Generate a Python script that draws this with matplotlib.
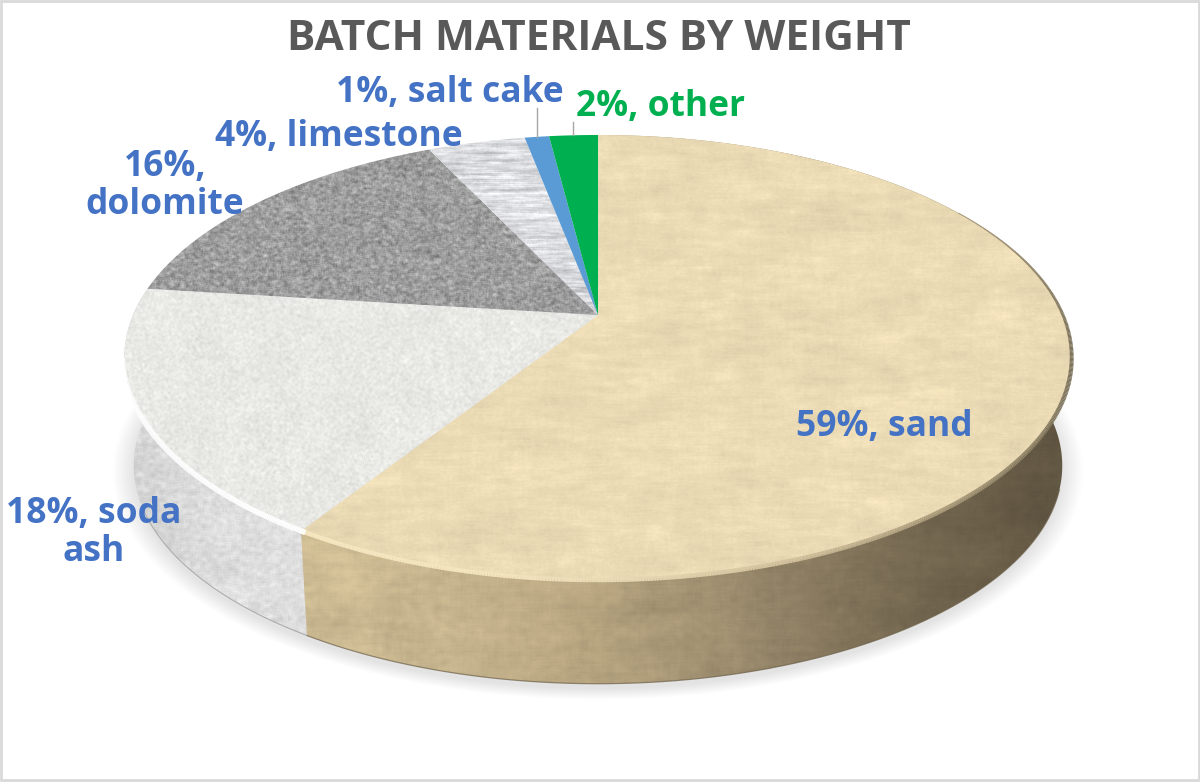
import numpy as np
import matplotlib
matplotlib.use('Agg')
import matplotlib.pyplot as plt
from matplotlib.collections import LineCollection
from matplotlib.colors import to_rgb
from matplotlib.patches import Polygon, Rectangle

# slices, clockwise from 12 o'clock
materials = ['sand', 'soda\nash', 'dolomite', 'limestone', 'salt cake', 'other']
percent = [59, 18, 16, 4, 1, 2]
separators = [', ', ', ', ',\n', ', ', ', ', ', ']
title = 'BATCH MATERIALS BY WEIGHT'

W, H = 1200, 782
FONT = 'Open Sans'

# pie geometry in picture pixels
CX, CY = 598, 315
A, B, K = 465, 214.4, 0.191
DEPTH, BOTTOM_SCALE = 109, 0.98


def project(t, bottom=False):
    x, y = np.cos(t), np.sin(t)
    w = 1 + K * y
    s = BOTTOM_SCALE if bottom else 1.0
    dz = DEPTH if bottom else 0
    return np.c_[CX + s * A * x / w, CY + dz - s * B * y / w]


def hash_noise(seed):
    xx, yy = np.meshgrid(np.arange(W), np.arange(H))
    v = np.sin(xx * 12.9898 + yy * 78.233 + seed) * 43758.5453
    return v - np.floor(v)


def smooth(a, kx, ky):
    kernel = np.zeros_like(a)
    kernel[:ky, :kx] = 1 / (kx * ky)
    out = np.fft.irfft2(np.fft.rfft2(a) * np.fft.rfft2(kernel), s=a.shape)
    return (out - out.mean()) / out.std()


def textured(base, layers, shade=None):
    tex = np.zeros((H, W))
    for seed, kx, ky, amp in layers:
        tex += amp * smooth(hash_noise(seed), kx, ky)
    rgb = np.array(to_rgb(base))[None, None, :] * (1 + tex)[..., None]
    if shade is not None:
        rgb = shade * (1 + tex)[..., None]
    return np.clip(rgb, 0, 1)


def gradient(xs, colors):
    cols = np.array([to_rgb(c) for c in colors])
    grid = np.arange(W)
    ramp = np.stack([np.interp(grid, xs, cols[:, i]) for i in range(3)], axis=1)
    return np.repeat(ramp[None, :, :], H, axis=0)


def draw_clipped(ax, image, points, zorder):
    patch = Polygon(points, closed=True, facecolor='none', edgecolor='none',
                    transform=ax.transData, zorder=zorder)
    ax.add_patch(patch)
    im = ax.imshow(image, extent=(0, W, H, 0), aspect='auto',
                   interpolation='nearest', zorder=zorder)
    im.set_clip_path(patch)


fig = plt.figure(figsize=(W / 100, H / 100), dpi=100)
ax = fig.add_axes([0, 0, 1, 1])

# start/end angle of each slice
edges = np.cumsum([0] + percent) / sum(percent)
angles = np.pi / 2 - 2 * np.pi * edges

top_tex = [
    textured('#ebdbb5', [(1.0, 45, 22, 0.012), (2.0, 20, 6, 0.010), (3.0, 3, 2, 0.006)]),
    textured('#e8e8e5', [(4.0, 3, 3, 0.018), (5.0, 30, 30, 0.006)]),
    textured('#9d9d9e', [(6.0, 4, 3, 0.07), (7.0, 2, 2, 0.03)]),
    textured('#dcdde0', [(8.0, 40, 3, 0.05), (9.0, 12, 2, 0.03)]),
    textured('#5b9bd5', []),
    textured('#00b050', []),
]
sand_wall = gradient([300, 450, 600, 750, 900, 1000, 1075],
                     ['#cdbb93', '#c6b48e', '#b4a27e', '#98886b', '#786b53', '#695d48', '#5e5440'])
soda_wall = gradient([120, 220, 310], ['#d2d2d2', '#dddddd', '#dfdfdf'])
side_tex = [
    textured('#000000', [(11.0, 50, 22, 0.02), (12.0, 8, 6, 0.012)], shade=sand_wall),
    textured('#000000', [(13.0, 5, 4, 0.022), (14.0, 20, 20, 0.008)], shade=soda_wall),
]

# soft shadow under the pie
ring = np.linspace(0, 2 * np.pi, 360)
base = project(ring, bottom=True)
centre = base.mean(axis=0)
for grow in np.linspace(1.045, 1.0, 14):
    pts = centre + (base - centre) * grow + np.array([0, 5])
    ax.add_patch(Polygon(pts, closed=True, facecolor='black', edgecolor='none',
                         alpha=0.009, zorder=1))

# side wall
for i in [1, 0]:
    t = np.linspace(angles[i], angles[i + 1], 300)
    pts = np.vstack([project(t), project(t[::-1], bottom=True)])
    draw_clipped(ax, side_tex[i], pts, zorder=2)

# dark line on the lower edge of the wall
t = np.linspace(-0.3, angles[1], 300)
low = project(t, bottom=True)
ax.plot(low[:, 0], low[:, 1], color='#6d6149', lw=0.9, alpha=0.7, zorder=3)
t = np.linspace(angles[1], angles[2] + 0.5, 120)
low = project(t, bottom=True)
ax.plot(low[:, 0], low[:, 1], color='#999999', lw=0.8, alpha=0.7, zorder=3)

# top face
for i in range(len(percent)):
    t = np.linspace(angles[i], angles[i + 1], max(int(percent[i] * 8), 20))
    pts = np.vstack([[CX, CY], project(t)])
    draw_clipped(ax, top_tex[i], pts, zorder=4)

# rounded rim highlights
t = np.linspace(0.55, angles[1], 500)
rim = project(t)
segs = np.stack([rim[:-1], rim[1:]], axis=1)
mid = segs.mean(axis=1)[:, 0]
rim_x = [305, 500, 620, 800, 950, 1050, 1073]
rim_cols = np.array([to_rgb(c) for c in
                     ['#f7e7c0', '#f3e4bf', '#e8d8b4', '#d0bf9a', '#a79878', '#857a60', '#7a705b']])
colors = np.stack([np.interp(mid, rim_x, rim_cols[:, c]) for c in range(3)], axis=1)
widths = np.interp(np.sin(t[:-1]), [-0.3, 0.0, 0.5], [3.2, 2.2, 0.7])
ax.add_collection(LineCollection(segs, colors=colors, linewidths=widths, zorder=5))

t = np.linspace(angles[1] + 0.01, angles[2] + 0.32, 200)
rim = project(t)
segs = np.stack([rim[:-1], rim[1:]], axis=1)
widths = np.interp(t[:-1], [angles[2] + 0.32, angles[2] + 0.6, angles[1]], [1.0, 4.0, 4.0])
ax.add_collection(LineCollection(segs, colors='white', linewidths=widths, zorder=5))

# leader lines of the two smallest slices
leader_frac = [(edges[i] + edges[i + 1]) / 2 for i in (4, 5)]
leader_top = [108, 122]
for frac, y_top in zip(leader_frac, leader_top):
    p = project(np.array([np.pi / 2 - 2 * np.pi * frac]))[0]
    ax.plot([p[0], p[0]], [y_top, p[1]], color='#a6a6a6', lw=1, zorder=6)

ax.add_patch(Rectangle((1, 1), W - 2, H - 3, facecolor='none', edgecolor='#d9d9d9', lw=2, zorder=9))

# labels
label_xy = [(884, 427), (94, 533), (165, 186), (339, 137), (450, 93), (660, 107)]
label_cols = ['#4472c4', '#4472c4', '#4472c4', '#4472c4', '#4472c4', '#00b050']
for i, (x, y) in enumerate(label_xy):
    ax.text(x, y, f'{percent[i]}%{separators[i]}{materials[i]}', color=label_cols[i],
            fontsize=25.5, fontweight='bold', family=FONT, ha='center', va='center',
            linespacing=1.05, zorder=8)
ax.text(599, 40, title, color='#595959', fontsize=30.5, fontweight='bold', family=FONT,
        ha='center', va='center', zorder=8)

ax.set_xlim(0, W)
ax.set_ylim(H, 0)
ax.axis('off')
fig.savefig('out.png', dpi=100, facecolor='white')
